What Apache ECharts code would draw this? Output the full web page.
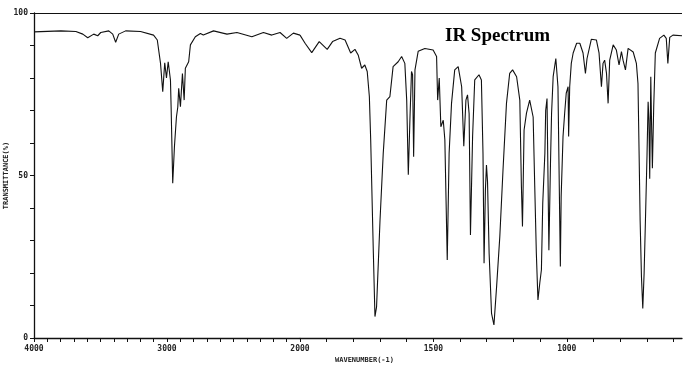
<!DOCTYPE html>
<html>
<head>
<meta charset="utf-8">
<script src="https://cdn.jsdelivr.net/npm/echarts@6/dist/echarts.min.js"></script>
<style>
  html, body { margin: 0; padding: 0; background: #fff; }
  #chart { width: 700px; height: 377px; }
</style>
</head>
<body>
<div id="chart"></div>
<script>
// wavenumber (cm-1) and transmittance (%)
var wavenumbers = [
  4000, 3798, 3685, 3633, 3596, 3551, 3521, 3498, 3438, 3408, 3386, 3363, 3311, 3199, 3101,
  3073, 3049, 3032, 3017, 3004, 2991, 2974, 2969, 2957, 2944, 2929, 2919, 2912, 2899, 2884,
  2871, 2862, 2849, 2837, 2824, 2787, 2749, 2727, 2650, 2549, 2474, 2362, 2275, 2212, 2150,
  2100, 2050, 2000,
  1994, 1981, 1956, 1928, 1898, 1878, 1850, 1831, 1810, 1794, 1782, 1769, 1757, 1748, 1740,
  1735, 1725, 1719, 1713, 1700, 1688, 1675, 1663, 1651, 1632, 1619, 1607, 1600, 1594, 1588,
  1582, 1578, 1574, 1569, 1557, 1532, 1501, 1488, 1484, 1478, 1472, 1463, 1457, 1448, 1441,
  1432, 1420, 1407, 1394, 1386, 1378, 1372, 1366, 1361, 1353, 1345, 1329, 1320, 1314, 1310,
  1305, 1301, 1297, 1291, 1282, 1273, 1263, 1251, 1239, 1226, 1214, 1203, 1188, 1176, 1170,
  1166, 1160, 1151, 1139, 1126, 1120, 1114, 1108, 1101, 1095, 1090, 1082, 1079, 1074, 1067,
  1061, 1057, 1051, 1041, 1033, 1024, 1021, 1014, 1008, 1002, 995, 993, 989, 983, 976,
  963, 951, 939, 930, 924, 908, 889, 879, 870, 864, 858, 851, 845, 839, 826,
  814, 804, 795, 789, 780, 770, 764, 751, 739, 733, 729, 725, 720, 715, 710,
  705, 699, 695, 692, 689, 685, 683, 679, 674, 668, 652, 636, 627, 621, 614,
  602, 568
];
var transmittance = [
  94.2, 94.5, 94.3, 93.5, 92.4, 93.5, 93.0, 94.0, 94.5, 93.5, 91.0, 93.5, 94.5, 94.3, 93.2,
  91.7, 84.6, 75.8, 84.7, 80.0, 85.0, 79.4, 71.0, 47.6, 58.9, 68.0, 71.0, 76.8, 71.2, 81.4,
  73.2, 83.0, 82.5, 85.0, 90.2, 92.7, 93.7, 93.2, 94.5, 93.5, 94.0, 92.7, 94.0, 93.2, 94.0,
  92.2, 93.8, 93.2,
  93.2, 90.7, 87.8, 91.2, 88.8, 91.2, 92.2, 91.7, 87.7, 88.8, 87.1, 83.0, 84.0, 82.0, 74.3,
  61.0, 26.1, 6.6, 9.6, 36.3, 56.8, 73.2, 74.3, 83.5, 85.0, 86.6, 84.5, 73.2, 50.2, 67.0,
  82.0, 81.0, 55.8, 82.5, 88.2, 89.1, 88.6, 86.6, 73.2, 80.0, 65.0, 67.0, 61.0, 24.0, 56.8,
  72.2, 82.5, 83.5, 77.3, 59.0, 73.2, 74.8, 69.0, 31.7, 62.0, 79.4, 81.0, 79.4, 56.8, 23.0,
  45.5, 53.2, 48.0, 26.0, 7.6, 4.0, 15.8, 31.2, 51.7, 72.2, 81.4, 82.5, 80.4, 73.2, 46.6,
  34.3, 64.0, 69.2, 73.2, 68.0, 46.6, 26.0, 11.7, 17.0, 21.0, 41.5, 56.9, 70.0, 73.7, 27.0,
  53.8, 69.0, 80.4, 86.0, 77.3, 22.0, 43.5, 62.0, 69.0, 75.3, 77.3, 62.0, 77.3, 84.5, 87.7,
  90.7, 90.7, 87.7, 81.4, 86.0, 91.9, 91.7, 87.7, 77.3, 84.5, 85.5, 81.4, 72.2, 85.5, 90.2,
  88.6, 84.0, 88.1, 85.5, 82.5, 89.1, 89.1, 88.0, 84.5, 78.3, 57.8, 36.3, 18.9, 9.1, 20.0,
  36.3, 56.8, 72.7, 67.0, 49.0, 80.4, 70.0, 52.2, 71.2, 87.7, 92.2, 93.2, 92.2, 84.5, 92.5,
  93.2, 93.0
];
// the x scale doubles below 2000 cm-1, so the two halves get their own grids
var splitWavenumber = 2000;
var lowEnd = 568;
var xTickValuesLow = [600, 700, 800, 900, 1000, 1100, 1200, 1300, 1400, 1500, 1600, 1700, 1800, 1900, 2000];
var xLabelValuesLow = [1000, 1500];
var yLabelValues = [0, 50, 100];

var highPart = [], lowPart = [];
wavenumbers.forEach(function (w, i) {
  if (w >= splitWavenumber) highPart.push([w, transmittance[i]]);
  if (w <= splitWavenumber) lowPart.push([w, transmittance[i]]);
});

var axisFont = { fontFamily: 'DejaVu Sans Mono', fontWeight: 'bold', fontSize: 8, color: '#222' };
var axisLineStyle = { lineStyle: { color: '#111', width: 1.3 } };
var topLine = {
  silent: true, symbol: 'none', label: { show: false },
  lineStyle: { color: '#111', width: 1.2, type: 'solid' },
  data: [{ yAxis: 100 }]
};

var myChart = echarts.init(document.getElementById('chart'));
myChart.setOption({
  animation: false,
  backgroundColor: '#fff',
  title: {
    text: 'IR Spectrum', left: 440, top: 22,
    textStyle: { fontFamily: 'Liberation Serif', fontWeight: 'bold', fontSize: 19, color: '#000' }
  },
  graphic: [{
    type: 'text', left: 335, top: 357,
    style: { text: 'WAVENUMBER(-1)', font: 'bold 7px DejaVu Sans Mono', fill: '#222' }
  }],
  grid: [
    { left: 34, top: 13, width: 266, bottom: 39 },
    { left: 300, top: 13, right: 18, bottom: 39 }
  ],
  xAxis: [{
    gridIndex: 0, type: 'value', min: 2000, max: 4000, interval: 100, inverse: true,
    axisLine: axisLineStyle,
    axisTick: { length: 4, lineStyle: { color: '#111' } },
    axisLabel: Object.assign({ margin: 7, formatter: function (v) { return v % 1000 === 0 ? String(v) : ''; } }, axisFont),
    splitLine: { show: false }
  }, {
    gridIndex: 1, type: 'value', min: lowEnd, max: 2000, inverse: true,
    axisLine: axisLineStyle,
    axisTick: { length: 4, customValues: xTickValuesLow, lineStyle: { color: '#111' } },
    axisLabel: Object.assign({ margin: 7, customValues: xLabelValuesLow, formatter: function (v) { return String(v); } }, axisFont),
    splitLine: { show: false }
  }],
  yAxis: [{
    gridIndex: 0, type: 'value', min: 0, max: 100, interval: 10,
    name: 'TRANSMITTANCE(%)', nameLocation: 'middle', nameGap: 23,
    nameTextStyle: { fontFamily: 'DejaVu Sans Mono', fontWeight: 'bold', fontSize: 7, color: '#222' },
    axisLine: { show: true, lineStyle: { color: '#111', width: 1.3 } },
    axisTick: { show: true, length: 4, lineStyle: { color: '#111' } },
    axisLabel: Object.assign({
      margin: 6,
      formatter: function (v) { return yLabelValues.indexOf(v) >= 0 ? String(v) : ''; }
    }, axisFont),
    splitLine: { show: false }
  }, {
    gridIndex: 1, type: 'value', min: 0, max: 100, show: false
  }],
  series: [{
    type: 'line', xAxisIndex: 0, yAxisIndex: 0, data: highPart,
    showSymbol: false, lineStyle: { color: '#111', width: 1.1 }, markLine: topLine
  }, {
    type: 'line', xAxisIndex: 1, yAxisIndex: 1, data: lowPart,
    showSymbol: false, lineStyle: { color: '#111', width: 1.1 }, markLine: topLine
  }]
});
</script>
</body>
</html>
